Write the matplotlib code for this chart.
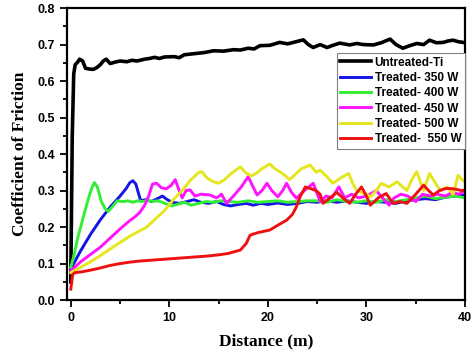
import matplotlib
matplotlib.use('Agg')
import matplotlib.pyplot as plt
from matplotlib.ticker import MultipleLocator

# readings taken from the reference chart
untreated_x = [0, 0.15, 0.3, 0.45, 0.7, 0.9, 1.2, 1.5, 1.9, 2.3, 2.7, 3.0, 3.3, 3.6, 4.0, 4.5, 5.0, 5.7, 6.2, 6.7, 7.5,
               8.0, 8.5, 9.0, 9.5, 10.5, 11.0, 11.5, 12.5, 13.5, 14.5, 15.5, 16.5, 17.2, 18.0, 18.6, 19.2, 20.2, 21.2,
               22.0, 22.6, 23.6, 24.1, 24.6, 25.3, 26.0, 26.6, 27.3, 28.3, 29.0, 29.7, 30.7, 31.5, 32.4, 33.0, 33.7,
               34.4, 35.1, 35.8, 36.4, 37.1, 37.8, 38.3, 38.8, 39.3, 39.8, 40.0]
untreated_y = [0.05, 0.45, 0.62, 0.645, 0.652, 0.66, 0.655, 0.635, 0.633, 0.632, 0.638, 0.645, 0.655, 0.66, 0.648,
               0.652, 0.655, 0.653, 0.657, 0.655, 0.66, 0.662, 0.665, 0.662, 0.666, 0.667, 0.664, 0.672, 0.675, 0.678,
               0.683, 0.682, 0.686, 0.685, 0.69, 0.688, 0.697, 0.698, 0.706, 0.702, 0.706, 0.713, 0.70, 0.692, 0.70,
               0.692, 0.698, 0.704, 0.699, 0.703, 0.70, 0.699, 0.705, 0.715, 0.70, 0.69, 0.697, 0.703, 0.70, 0.712,
               0.705, 0.706, 0.71, 0.712, 0.708, 0.706, 0.705]

w350_x = [0, 0.5, 1, 2, 3, 4, 5, 5.6, 6.0, 6.3, 6.6, 6.9, 7.1, 7.6, 8.2, 8.8, 9.3, 9.8, 10.3, 11, 11.8, 12.5, 13.2,
          14, 14.8, 15.5, 16.2, 17, 17.8, 18.5, 19.3, 20, 21, 22, 23, 24, 25, 26, 27, 28, 29, 30, 31, 32, 33, 34,
          35, 36, 37, 38, 39, 40]
w350_y = [0.085, 0.11, 0.135, 0.18, 0.22, 0.255, 0.285, 0.305, 0.322, 0.327, 0.318, 0.29, 0.272, 0.275, 0.27,
          0.278, 0.285, 0.275, 0.268, 0.265, 0.27, 0.275, 0.268, 0.265, 0.27, 0.262, 0.258, 0.262, 0.265, 0.26,
          0.265, 0.262, 0.266, 0.262, 0.265, 0.27, 0.268, 0.272, 0.268, 0.272, 0.268, 0.265, 0.27, 0.268, 0.265,
          0.272, 0.275, 0.278, 0.275, 0.282, 0.285, 0.288]

w400_x = [0, 0.3, 0.7, 1.2, 1.7, 2.1, 2.4, 2.7, 3.1, 3.5, 3.8, 4.2, 4.7, 5.3, 5.8, 6.3, 6.8, 7.3, 7.8, 8.3, 8.8,
          9.3, 9.8, 10.3, 10.8, 11.5, 12.2, 13, 13.7, 14.5, 15.2, 16, 17, 18, 19, 20, 21, 22, 23, 24, 25, 26, 27,
          28, 29, 30, 31, 32, 33, 34, 35, 36, 37, 38, 39, 40]
w400_y = [0.09, 0.12, 0.17, 0.22, 0.27, 0.305, 0.322, 0.31, 0.27, 0.25, 0.243, 0.255, 0.272, 0.27, 0.272, 0.268,
          0.272, 0.27, 0.274, 0.27, 0.272, 0.268, 0.262, 0.258, 0.262, 0.268, 0.26, 0.265, 0.27, 0.268, 0.272,
          0.27, 0.268, 0.272, 0.268, 0.27, 0.272, 0.268, 0.27, 0.272, 0.272, 0.268, 0.275, 0.27, 0.268, 0.272,
          0.268, 0.275, 0.27, 0.275, 0.28, 0.285, 0.278, 0.282, 0.285, 0.28]

w450_x = [0, 1, 2, 3, 4, 5, 6, 6.5, 7, 7.5, 7.9, 8.3, 8.7, 9.2, 9.7, 10.2, 10.6, 11.0, 11.3, 11.7, 12.1, 12.6,
          13.2, 14.1, 14.8, 15.3, 15.8, 16.5, 17.3, 18, 18.5, 18.9, 19.4, 19.9, 20.4, 21, 21.5, 21.9, 22.4, 22.9,
          23.7, 24.6, 25.3, 25.9, 26.5, 27.2, 27.8, 28.5, 29.2, 30, 31, 31.8, 32.3, 32.8, 33.5, 34.2, 35, 35.7,
          36.5, 37.2, 38, 38.7, 39.4, 40]
w450_y = [0.08, 0.105, 0.125, 0.145, 0.17, 0.195, 0.218, 0.228, 0.24, 0.26, 0.285, 0.318, 0.32, 0.308, 0.305,
          0.315, 0.33, 0.30, 0.28, 0.30, 0.302, 0.285, 0.29, 0.288, 0.28, 0.29, 0.265, 0.285, 0.31, 0.338, 0.31,
          0.288, 0.30, 0.32, 0.30, 0.283, 0.30, 0.32, 0.295, 0.279, 0.30, 0.32, 0.27, 0.285, 0.28, 0.31, 0.28,
          0.29, 0.28, 0.285, 0.30, 0.275, 0.26, 0.28, 0.29, 0.285, 0.27, 0.29, 0.285, 0.29, 0.285, 0.295, 0.29,
          0.30]

w500_x = [0, 1, 2, 3, 4, 5, 6, 7, 7.7, 8.5, 9.5, 10.4, 11.3, 12.2, 13.0, 13.3, 13.8, 14.4, 15, 15.6, 16.2, 16.7,
          17.2, 17.7, 18.3, 18.8, 19.4, 20.2, 20.7, 21.3, 21.8, 22.2, 22.8, 23.4, 24.3, 24.9, 25.3, 26, 26.6, 27.4,
          28.2, 28.6, 29, 30, 30.4, 31, 31.5, 32.3, 33.1, 34.1, 34.6, 35.1, 35.8, 36.4, 37, 37.5, 38.2, 38.8, 39.3,
          39.7, 40]
w500_y = [0.075, 0.09, 0.105, 0.122, 0.14, 0.158, 0.175, 0.19, 0.2, 0.22, 0.245, 0.275, 0.30, 0.33, 0.35, 0.352,
          0.335, 0.325, 0.32, 0.33, 0.345, 0.355, 0.365, 0.35, 0.34, 0.347, 0.36, 0.373, 0.36, 0.35, 0.34, 0.33,
          0.345, 0.36, 0.37, 0.35, 0.356, 0.338, 0.32, 0.335, 0.347, 0.32, 0.30, 0.29, 0.283, 0.30, 0.32, 0.31,
          0.324, 0.30, 0.33, 0.352, 0.30, 0.347, 0.32, 0.30, 0.31, 0.29, 0.342, 0.33, 0.324]

w550_x = [0, 0.1, 0.2, 0.4, 1, 2, 3, 4, 5, 6, 7, 8, 9, 10, 11, 12, 13, 14, 15, 16, 17.2, 17.8, 18.2, 19, 20.2, 21,
          21.9, 22.5, 22.9, 23.3, 23.8, 24.4, 24.9, 25.3, 25.6, 26.3, 27, 27.6, 28.3, 28.9, 29.5, 30.0, 30.4, 31.2,
          32.0, 32.7, 33.4, 34.1, 35.0, 35.8, 36.3, 36.8, 37.4, 38.1, 38.8, 39.7, 40]
w550_y = [0.03, 0.05, 0.07, 0.075, 0.077, 0.082, 0.088, 0.095, 0.10, 0.104, 0.107, 0.109, 0.111, 0.113, 0.115,
          0.117, 0.119, 0.121, 0.124, 0.128, 0.137, 0.155, 0.178, 0.185, 0.192, 0.205, 0.219, 0.235, 0.256, 0.285,
          0.31, 0.305, 0.30, 0.29, 0.265, 0.28, 0.295, 0.28, 0.265, 0.29, 0.31, 0.285, 0.26, 0.28, 0.292, 0.265,
          0.27, 0.265, 0.29, 0.315, 0.30, 0.288, 0.30, 0.306, 0.305, 0.30, 0.302]

fig = plt.figure(figsize=(4.74, 3.51), dpi=100)
ax = fig.add_axes([0.141, 0.145, 0.840, 0.832])

ax.plot(untreated_x, untreated_y, color='black', lw=2.6, label='Untreated-Ti')
ax.plot(w350_x, w350_y, color='#1414e6', lw=2.1, label='Treated- 350 W')
ax.plot(w400_x, w400_y, color='#33ee33', lw=2.1, label='Treated- 400 W')
ax.plot(w450_x, w450_y, color='#ff14ff', lw=2.1, label='Treated- 450 W')
ax.plot(w500_x, w500_y, color='#e6e61e', lw=2.1, label='Treated- 500 W')
ax.plot(w550_x, w550_y, color='#ee1111', lw=2.1, label='Treated-  550 W')

ax.set_xlim(-0.4, 40)
ax.set_ylim(0, 0.8)
ax.xaxis.set_major_locator(MultipleLocator(10))
ax.xaxis.set_minor_locator(MultipleLocator(5))
ax.yaxis.set_major_locator(MultipleLocator(0.1))
ax.yaxis.set_minor_locator(MultipleLocator(0.05))
ax.tick_params(which='both', direction='out', width=1.3)
ax.tick_params(which='major', length=5, labelsize=9)
ax.tick_params(which='minor', length=3)
for lbl in ax.get_xticklabels() + ax.get_yticklabels():
    lbl.set_fontfamily('Liberation Sans')
    lbl.set_fontweight('bold')
ax.yaxis.set_major_formatter(plt.FuncFormatter(lambda v, p: '%.1f' % v))
for s in ax.spines.values():
    s.set_linewidth(1.6)

ax.set_xlabel('Distance (m)', fontfamily='Liberation Serif', fontweight='bold', fontsize=12.5, labelpad=7)
ax.set_ylabel('Coefficient of Friction', fontfamily='Liberation Serif', fontweight='bold', fontsize=12.5, labelpad=7)

leg = ax.legend(loc='upper right', bbox_to_anchor=(1.0, 0.846), borderaxespad=0, fancybox=False,
                edgecolor='gray', framealpha=1, handlelength=2.6, handletextpad=0.3, labelspacing=0.28,
                borderpad=0.3, prop={'family': 'Liberation Sans', 'weight': 'bold', 'size': 8.5})
leg.get_frame().set_linewidth(0.8)

plt.savefig('out.png', dpi=100)
